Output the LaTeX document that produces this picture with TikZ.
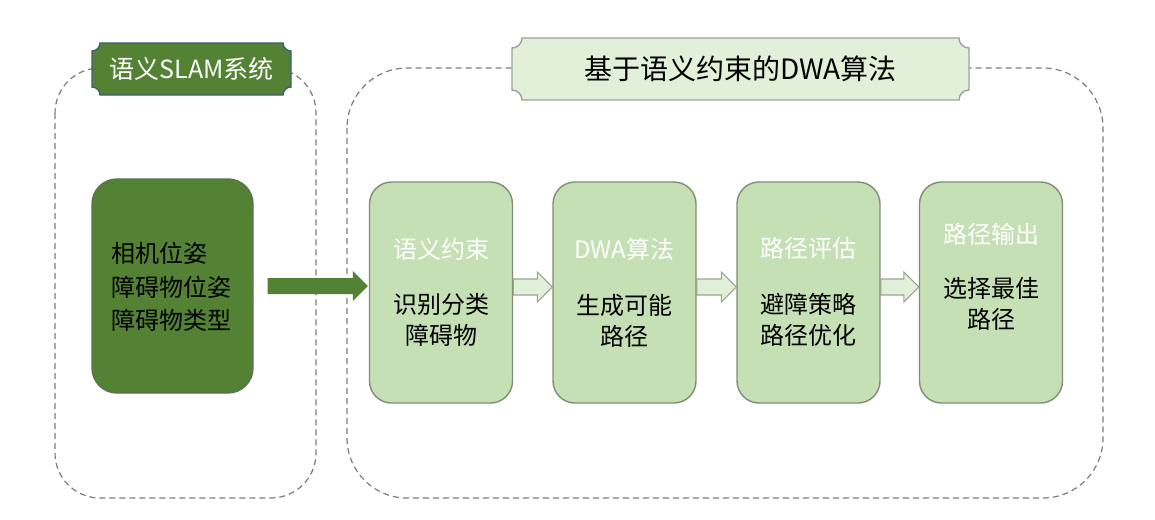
\documentclass[tikz,border=0pt]{standalone}
\usepackage{fontspec}
\setmainfont{Noto Sans CJK SC}
\usetikzlibrary{calc}
\definecolor{dkgreen}{RGB}{84,130,53}
\definecolor{ltgreen}{RGB}{197,224,180}
\definecolor{palegreen}{RGB}{226,240,217}
\definecolor{boxline}{RGB}{128,142,118}
\definecolor{dkline}{RGB}{92,112,82}
\definecolor{plqblue}{RGB}{66,92,120}
\definecolor{dashgray}{RGB}{125,125,125}
\newcommand\plaque[6]{%
\path[#1] ({#2+#6},#3) -- ({#4-#6},#3)
 .. controls ({#4-#6},{#3+0.55*#6}) and ({#4-0.55*#6},{#3+#6}) .. (#4,{#3+#6})
 -- (#4,{#5-#6})
 .. controls ({#4-0.55*#6},{#5-#6}) and ({#4-#6},{#5-0.55*#6}) .. ({#4-#6},#5)
 -- ({#2+#6},#5)
 .. controls ({#2+#6},{#5-0.55*#6}) and ({#2+0.55*#6},{#5-#6}) .. (#2,{#5-#6})
 -- (#2,{#3+#6})
 .. controls ({#2+0.55*#6},{#3+#6}) and ({#2+#6},{#3+0.55*#6}) .. ({#2+#6},#3) -- cycle;}
\newcommand\blockarrow[3]{%
\path[#1] let \p1=(#2), \p2=(#3) in
 ({\x1},{\y1+8pt}) -- ({\x2-15pt},{\y1+8pt}) -- ({\x2-15pt},{\y1+15pt}) -- ({\x2},{\y1})
 -- ({\x2-15pt},{\y1-15pt}) -- ({\x2-15pt},{\y1-8pt}) -- ({\x1},{\y1-8pt}) -- cycle;}
\begin{document}
\begin{tikzpicture}[x=1pt,y=-1pt,
  container/.style={draw=dashgray, line width=1.2pt, dash pattern=on 6pt off 4pt},
  stagebox/.style={draw=boxline, line width=1.4pt, fill=ltgreen, rounded corners=22pt,
    minimum width=143pt, minimum height=221pt, inner sep=0pt},
  stagetitle/.style={text=white, font=\fontsize{24}{28}\selectfont, inner sep=0pt},
  stagebody/.style={text=black, font=\fontsize{24}{31}\selectfont, align=center, inner sep=0pt},
  smallarrow/.style={draw=boxline!80, line width=1.1pt, fill=palegreen},
  bigarrow/.style={fill=dkgreen}]
\useasboundingbox (0,0) rectangle (1155,519);
\fill[white] (0,0) rectangle (1155,519);
% containers
\draw[container, rounded corners=45pt] (55,68) rectangle (316,498);
\draw[container, rounded corners=60pt] (347,68) rectangle (1103,498);
% titles
\plaque{fill=dkgreen, draw=plqblue, line width=1.4pt}{92}{43}{291}{95}{8}
\node[text=white, font=\fontsize{25}{28}\selectfont, inner sep=0pt] (slamtitle) at (191.5,69) {语义SLAM系统};
\plaque{fill=palegreen, draw=gray!75, line width=1.4pt}{512}{38}{969}{100}{10}
\node[text=black, font=\fontsize{28}{32}\selectfont, inner sep=0pt] (dwatitle) at (740.5,69) {基于语义约束的DWA算法};
% SLAM box
\node[draw=dkline, line width=1.4pt, fill=dkgreen, rounded corners=25pt,
  minimum width=161pt, minimum height=214pt, inner sep=0pt] (slam) at (172.5,286) {};
\node[anchor=west, align=left, font=\fontsize{24}{33.5}\selectfont, inner sep=0pt] (slamtext) at (111,287)
  {相机位姿\\障碍物位姿\\障碍物类型};
% stage boxes
\node[stagebox] (b1) at (441,292.5) {};
\node[stagebox] (b2) at (624.5,292.5) {};
\node[stagebox] (b3) at (808.5,292.5) {};
\node[stagebox] (b4) at (991,292.5) {};
\node[stagetitle] (b1t) at (441,249) {语义约束};
\node[stagebody] (b1b) at (441,320) {识别分类\\障碍物};
\node[stagetitle] (b2t) at (624.5,249) {DWA算法};
\node[stagebody] (b2b) at (624.5,321) {生成可能\\路径};
\node[stagetitle] (b3t) at (808.5,248) {路径评估};
\node[stagebody] (b3b) at (808.5,320) {避障策略\\路径优化};
\node[stagetitle] (b4t) at (991,234) {路径输出};
\node[stagebody] (b4b) at (991,304) {选择最佳\\路径};
% arrows
\blockarrow{bigarrow}{$(slam.east)+(14,0)$}{$(b1.west)+(-1,0)$}
\blockarrow{smallarrow}{$(b1.east)+(0,-5.5)$}{$(b2.west)+(0,-5.5)$}
\blockarrow{smallarrow}{$(b2.east)+(0,-5.5)$}{$(b3.west)+(0,-5.5)$}
\blockarrow{smallarrow}{$(b3.east)+(0,-5.5)$}{$(b4.west)+(0,-5.5)$}
\end{tikzpicture}
\end{document}
